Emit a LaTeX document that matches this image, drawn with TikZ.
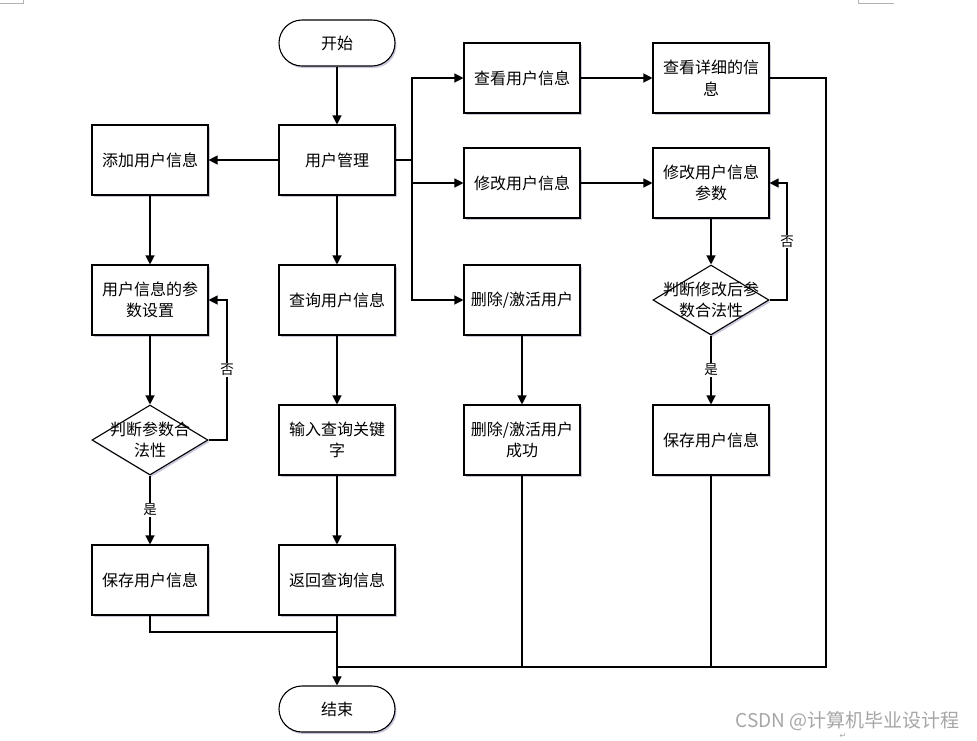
\documentclass[tikz,border=0pt]{standalone}
\usepackage{fontspec}
\setmainfont{Noto Sans CJK SC}
\newfontfamily\symfont{DejaVu Sans}
\usetikzlibrary{arrows.meta,shapes.geometric,shadows,positioning}
\tikzset{
  base/.style={draw=black, line width=1.1pt, fill=white, align=center, inner sep=2pt,
    font=\fontsize{16}{21.5}\selectfont,
    drop shadow={shadow xshift=1.5pt, shadow yshift=-2pt, fill=blue!25!gray, opacity=0.35}},
  box/.style={base, rectangle, minimum width=116pt, minimum height=70pt},
  term/.style={base, rectangle, rounded corners=23pt, minimum width=116pt, minimum height=46pt},
  dec/.style={base, diamond, minimum width=116pt, minimum height=70pt, inner sep=0pt},
  conn/.style={line width=1.2pt, draw=black},
  arr/.style={conn, -{Triangle[length=9pt,width=9pt]}},
  yn/.style={fill=white, inner sep=1pt, font=\fontsize{13.5}{15}\selectfont},
  dtext/.style={align=center, font=\fontsize{16}{21.5}\selectfont, inner sep=0pt}
}
\begin{document}
\begin{tikzpicture}[x=1pt,y=-1pt]
\useasboundingbox (0,0) rectangle (977,740);
% corner marks
\draw[gray!60, line width=0.8pt] (0,3) -- (23,3) -- (23,0);
\draw[gray!60, line width=0.8pt] (858,0) -- (858,3) -- (894,3);
% nodes
\node[term] (start) at (337,43) {开始};
\node[box] (um) at (337,160) {用户管理};
\node[box] (add) at (150,160) {添加用户信息};
\node[box] (param) at (150,300) {用户信息的参\\数设置};
\node[dec] (d1) at (150,440) {};
\node[dtext] (d1t) at (150,440) {判断参数合\\法性};
\node[box] (save1) at (150,580) {保存用户信息};
\node[box] (q) at (337,300) {查询用户信息};
\node[box] (kw) at (337,440) {输入查询关键\\字};
\node[box] (ret) at (337,580) {返回查询信息};
\node[term] (end) at (337,709) {结束};
\node[box] (view) at (522,78) {查看用户信息};
\node[box] (mod) at (522,183) {修改用户信息};
\node[box] (del) at (522,300) {删除/激活用户};
\node[box] (delok) at (522,440) {删除/激活用户\\成功};
\node[box] (detail) at (711,78) {查看详细的信\\息};
\node[box] (modp) at (711,183) {修改用户信息\\参数};
\node[dec] (d2) at (711,300) {};
\node[dtext] (d2t) at (711,300) {判断修改后参\\数合法性};
\node[box] (save2) at (711,440) {保存用户信息};
% coordinates
\coordinate (br) at (412,160);
\coordinate (lp1) at (227,440);
\coordinate (lp2) at (787,300);
\coordinate (j1) at (337,632);
\coordinate (j2) at (337,667);
\coordinate (rt) at (826,78);
\coordinate (rb) at (826,667);
\coordinate (m3) at (522,667);
\coordinate (m4) at (711,667);
% connectors
\draw[arr] (start) -- (um);
\draw[arr] (um) -- (add);
\draw[arr] (um) -- (q);
\draw[conn] (um.east) -- (br);
\draw[arr] (br) |- (view.west);
\draw[arr] (br) |- (mod.west);
\draw[arr] (br) |- (del.west);
\draw[arr] (view) -- (detail);
\draw[arr] (mod) -- (modp);
\draw[arr] (add) -- (param);
\draw[arr] (param) -- (d1);
\draw[arr] (d1.east) -- (lp1) |- node[yn, pos=0.25] {否} (param.east);
\draw[arr] (d1.south) -- node[yn, pos=0.5] {是} (save1.north);
\draw[arr] (q) -- (kw);
\draw[arr] (kw) -- (ret);
\draw[arr] (ret) -- (end);
\draw[conn] (save1.south) |- (j1);
\draw[arr] (del) -- (delok);
\draw[conn] (delok.south) -- (m3);
\draw[arr] (modp) -- (d2);
\draw[arr] (d2.east) -- (lp2) |- node[yn, pos=0.25] {否} (modp.east);
\draw[arr] (d2.south) -- node[yn, pos=0.5] {是} (save2.north);
\draw[conn] (save2.south) -- (m4);
\draw[conn] (detail.east) -- (rt) -- (rb) -- (j2);
% watermark
\node[anchor=east, text=gray!70, font=\fontsize{19}{22}\selectfont, inner sep=0pt] (wm) at (960,721) {CSDN @计算机毕业设计程};
\node[text=gray!70, font=\symfont\fontsize{8}{8}\selectfont, inner sep=0pt] (rm) at (843,736) {↵};
\end{tikzpicture}
\end{document}
